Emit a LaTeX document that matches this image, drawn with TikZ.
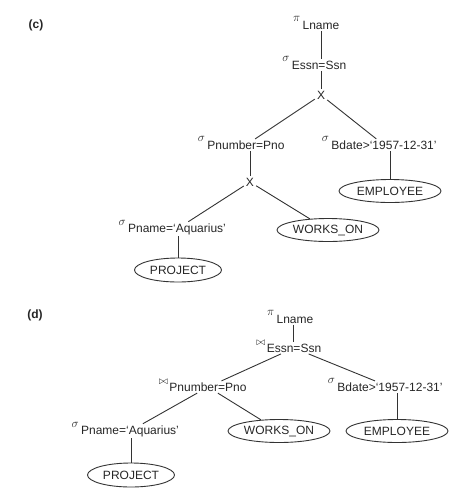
\documentclass[tikz,border=0pt]{standalone}
\usepackage{fontspec}
\setmainfont{Liberation Sans}
\usetikzlibrary{shapes.geometric}
\begin{document}
\begin{tikzpicture}[x=1pt,y=-1pt,
  lbl/.style={font=\fontsize{12}{14}\selectfont, inner sep=1.5pt, text=black!85},
  sym/.style={font=\fontsize{13}{13}\selectfont, inner sep=0pt, anchor=east, text=black!85},
  bsym/.style={sym, font=\fontsize{11}{11}\selectfont},
  rel/.style={ellipse, draw=black!80, line width=0.9pt, font=\fontsize{12}{14}\selectfont, text=black!85,
    minimum width=102pt, minimum height=23pt, inner sep=0pt},
  relsm/.style={rel, minimum width=87pt, minimum height=24pt},
  edge/.style={draw=black!80, line width=0.9pt},
  panel/.style={font=\bfseries\fontsize{12}{14}\selectfont, text=black!85}]
\useasboundingbox (0,0) rectangle (474,496);

% ---------- panel (c) ----------
\node[panel] (c-lab) at (36,25) {(c)};
\node[lbl] (cL) at (321,25) {Lname};
\node[sym] (cL-s) at ([xshift=-0.5pt,yshift=6pt]cL.west) {$\pi$};
\node[lbl] (cE) at (319,65) {Essn=Ssn};
\node[sym] (cE-s) at ([xshift=-0.5pt,yshift=6pt]cE.west) {$\sigma$};
\node[lbl, inner sep=2pt] (cX1) at (321,95) {X};
\node[lbl] (cP) at (246,145) {Pnumber=Pno};
\node[sym] (cP-s) at ([xshift=-0.5pt,yshift=6pt]cP.west) {$\sigma$};
\node[lbl] (cB) at (384,145) {Bdate>‘1957-12-31’};
\node[sym] (cB-s) at ([xshift=-0.5pt,yshift=6pt]cB.west) {$\sigma$};
\node[rel] (cEmp) at (390,191) {EMPLOYEE};
\node[lbl, inner sep=2pt] (cX2) at (250,182) {X};
\node[lbl] (cA) at (177,229) {Pname=‘Aquarius’};
\node[sym] (cA-s) at ([xshift=-0.5pt,yshift=6pt]cA.west) {$\sigma$};
\node[rel] (cW) at (328,230) {WORKS\_ON};
\node[relsm] (cProj) at (178,270) {PROJECT};

\draw[edge] (cL.south -| cX1) -- (cE.north -| cX1);
\draw[edge] (cE.south -| cX1) -- (cX1);
\draw[edge] (cX1) -- (cP);
\draw[edge] (cX1) -- (cB);
\draw[edge] (cP.south -| cX2) -- (cX2);
\draw[edge] (cB.south -| cEmp) -- (cEmp);
\draw[edge] (cX2) -- (cA);
\draw[edge] (cX2) -- (cW);
\draw[edge] (cA.south -| cProj) -- (cProj);

% ---------- panel (d) ----------
\node[panel] (d-lab) at (35,315) {(d)};
\node[lbl] (dL) at (295,319) {Lname};
\node[sym] (dL-s) at ([xshift=-0.5pt,yshift=6pt]dL.west) {$\pi$};
\node[lbl] (dE) at (294,348) {Essn=Ssn};
\node[bsym] (dE-s) at ([xshift=0.5pt,yshift=5pt]dE.west) {$\bowtie$};
\node[lbl] (dP) at (208,387) {Pnumber=Pno};
\node[bsym] (dP-s) at ([xshift=0.5pt,yshift=5pt]dP.west) {$\bowtie$};
\node[lbl] (dB) at (390,387) {Bdate>‘1957-12-31’};
\node[sym] (dB-s) at ([xshift=-0.5pt,yshift=6pt]dB.west) {$\sigma$};
\node[lbl] (dA) at (130,431) {Pname=‘Aquarius’};
\node[sym] (dA-s) at ([xshift=-0.5pt,yshift=6pt]dA.west) {$\sigma$};
\node[rel] (dW) at (279,431) {WORKS\_ON};
\node[rel] (dEmp) at (397,431) {EMPLOYEE};
\node[relsm] (dProj) at (131,475) {PROJECT};

\draw[edge] (dL.south -| 293,0) -- (dE.north -| 293,0);
\draw[edge] (dE) -- (dP);
\draw[edge] (dE) -- (dB);
\draw[edge] (dP) -- (dA);
\draw[edge] (dP) -- (dW);
\draw[edge] (dB.south -| dEmp) -- (dEmp);
\draw[edge] (dA.south -| dProj) -- (dProj);
\end{tikzpicture}
\end{document}
